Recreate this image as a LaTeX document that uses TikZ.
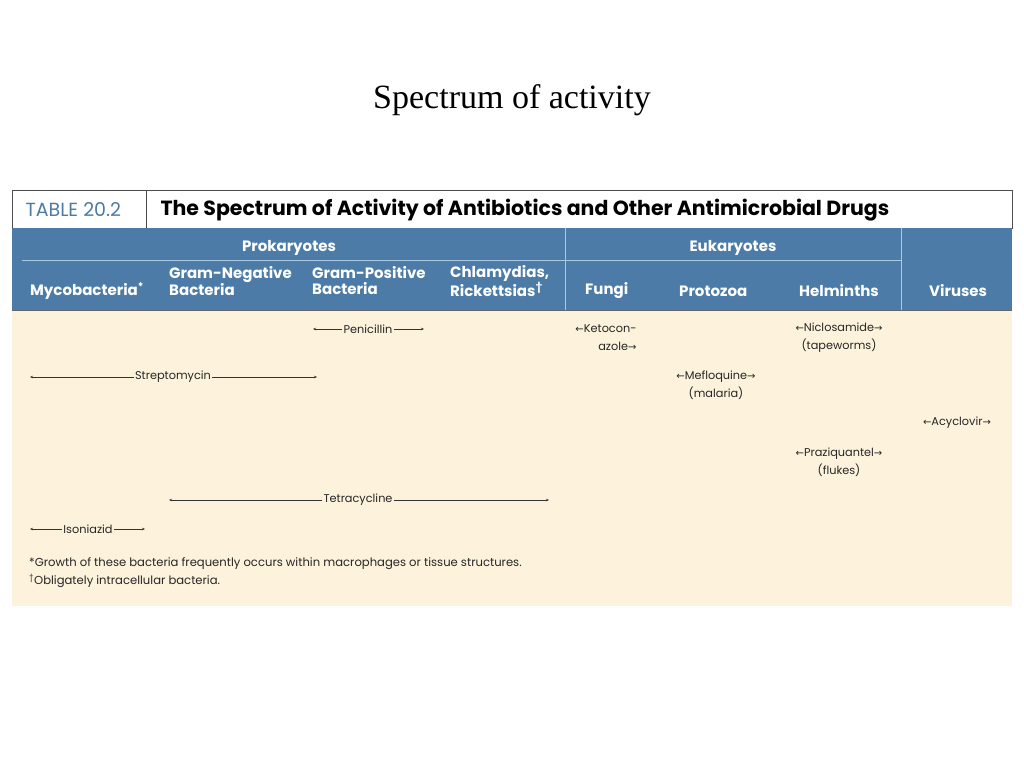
\documentclass[tikz,border=0pt]{standalone}
\usepackage{fontspec}
\setmainfont{Poppins}
\newfontfamily\serif{Liberation Serif}
\newfontfamily\arr{DejaVu Sans}
\newcommand\la{{\arr\fontsize{10}{10}\selectfont←}}
\newcommand\ra{{\arr\fontsize{10}{10}\selectfont→}}
\usetikzlibrary{arrows.meta}
\definecolor{hdr}{HTML}{4B7BA6}
\definecolor{body}{HTML}{FDF3DC}
\definecolor{sep}{HTML}{A9C8E2}
\begin{document}
\begin{tikzpicture}[x=1pt,y=-1pt,
  hd/.style={text=white,font=\fontsize{15}{16}\selectfont\bfseries,align=left,inner sep=0},
  bd/.style={font=\fontsize{11.3}{18}\selectfont,text=black!85,inner sep=1pt,align=center},
  ar/.style={-{Stealth[length=3pt,width=2.5pt]},line width=0.5pt,black!80}]
\useasboundingbox (0,0) rectangle (1024,768);
\fill[white] (0,0) rectangle (1024,768);
\node[font=\serif\fontsize{34}{36}\selectfont] (title) at (512,100) {Spectrum of activity};
% table
\fill[white] (12,190) rectangle (1012,228);
\draw[black!70,line width=0.8pt] (12,190) rectangle (1012,228);
\draw[black!70,line width=1pt] (146,190) -- (146,228);
\node[font=\fontsize{19}{20}\selectfont,text=hdr,anchor=west] (tab) at (22,210) {TABLE 20.2};
\node[font=\fontsize{20.5}{22}\selectfont\bfseries,anchor=west] (cap) at (157,210) {The Spectrum of Activity of Antibiotics and Other Antimicrobial Drugs};
\fill[hdr] (12,228) rectangle (1012,310);
\draw[black!60,line width=0.8pt] (12,310) -- (1012,310);
\fill[body] (12,311) rectangle (1012,606);
\draw[sep,line width=1pt] (22,260) -- (565,260) (565,260) -- (901,260);
\draw[sep,line width=1pt] (565,228) -- (565,310) (901,228) -- (901,310);
\node[hd] (pro) at (289,248) {Prokaryotes};
\node[hd] (euk) at (733,248) {Eukaryotes};
\node[hd,anchor=west] (myc) at (30,291) {Mycobacteria\textsuperscript{*}};
\node[hd,anchor=west] (gn) at (169,281) {Gram-Negative\\Bacteria};
\node[hd,anchor=west] (gp) at (312,281) {Gram-Positive\\Bacteria};
\node[hd,anchor=west] (ch) at (450,281) {Chlamydias,\\Rickettsias\textsuperscript{†}};
\node[hd,anchor=west] (fu) at (585,291) {Fungi};
\node[hd,anchor=west] (prz) at (679,291) {Protozoa};
\node[hd,anchor=west] (hel) at (799,291) {Helminths};
\node[hd,anchor=west] (vir) at (929,291) {Viruses};
% long arrows
\node[bd] (pen) at (368,329) {Penicillin};
\coordinate (penL) at (313,329); \coordinate (penR) at (424,329);
\draw[ar] (pen) -- (penL); \draw[ar] (pen) -- (penR);
\node[bd] (str) at (173,377) {Streptomycin};
\coordinate (strL) at (30,377); \coordinate (strR) at (317,377);
\draw[ar] (str) -- (strL); \draw[ar] (str) -- (strR);
\node[bd] (tet) at (358,500) {Tetracycline};
\coordinate (tetL) at (169,500); \coordinate (tetR) at (549,500);
\draw[ar] (tet) -- (tetL); \draw[ar] (tet) -- (tetR);
\node[bd] (iso) at (88,529) {Isoniazid};
\coordinate (isoL) at (30,529); \coordinate (isoR) at (145,529);
\draw[ar] (iso) -- (isoL); \draw[ar] (iso) -- (isoR);
% short
\node[bd,align=right] (ket) at (606,338) {\la Ketocon-\\azole\ra};
\node[bd] (nic) at (839,338) {\la Niclosamide\ra\\(tapeworms)};
\node[bd] (mef) at (716,385) {\la Mefloquine\ra\\(malaria)};
\node[bd] (acy) at (957,423) {\la Acyclovir\ra};
\node[bd] (pra) at (839,462) {\la Praziquantel\ra\\(flukes)};
\node[bd,align=left,anchor=west,font=\fontsize{11.6}{18}\selectfont] (fn) at (28,573) {*Growth of these bacteria frequently occurs within macrophages or tissue structures.\\\textsuperscript{†}Obligately intracellular bacteria.};
\end{tikzpicture}
\end{document}
